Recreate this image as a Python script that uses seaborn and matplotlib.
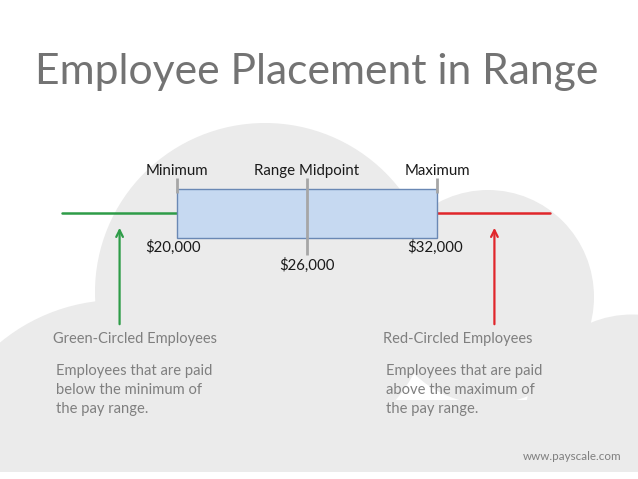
import numpy as np
import pandas as pd
import seaborn as sns
import matplotlib.pyplot as plt
from matplotlib.patches import Ellipse, Rectangle

# pay range values
range_min = 20000
range_mid = 26000
range_max = 32000
below_start = 14700   # left end of the green line
above_end = 37200     # right end of the red line
green_arrow_x = 17350
red_arrow_x = 34650

range_labels = ['Minimum', 'Range Midpoint', 'Maximum']
range_values = [range_min, range_mid, range_max]
value_labels = ['$20,000', '$26,000', '$32,000']

green_lines = ['Employees that are paid', 'below the minimum of', 'the pay range.']
red_lines = ['Employees that are paid', 'above the maximum of', 'the pay range.']

sns.set_theme(style='white')
plt.rcParams['font.family'] = ['Lato', 'DejaVu Sans']

W, H = 638, 479
fig = plt.figure(figsize=(W / 100, H / 100), dpi=100)
fig.patch.set_facecolor('white')

# background axes in pixel units for the cloud
bg = fig.add_axes([0, 0, 1, 1])
bg.set_xlim(0, W)
bg.set_ylim(H, 0)
bg.axis('off')
cloud = '#ebebeb'
clip = Rectangle((0, 0), W, 472, transform=bg.transData)
for cx, cy, w, h in [(265, 292, 340, 338), (488, 297, 212, 214),
                     (118, 485, 370, 370), (632, 422, 215, 215)]:
    e = Ellipse((cx, cy), w, h, facecolor=cloud, edgecolor='none')
    bg.add_patch(e)
    e.set_clip_path(clip)
r = Rectangle((0, 400), W, 72, facecolor=cloud, edgecolor='none')
bg.add_patch(r)

# main axes: x in dollars, y in pixels
px_per_dollar = 260 / (range_max - range_min)
ax = fig.add_axes([0, 0, 1, 1], facecolor='none')
ax.set_xlim(range_min - 177 / px_per_dollar, range_min + (W - 177) / px_per_dollar)
ax.set_ylim(H, 0)
ax.axis('off')

line_y = 213
sns.lineplot(x=[below_start, range_min], y=[line_y, line_y], color='#2e9c48', lw=1.8, ax=ax)
sns.lineplot(x=[range_max, above_end], y=[line_y, line_y], color='#e0262b', lw=1.8, ax=ax)

ax.barh(line_y, range_max - range_min, left=range_min, height=49,
        color='#c6d9f1', edgecolor='#6a88b4', lw=1, zorder=3)

# grey ticks
ax.vlines([range_min, range_max], 178, 193, color='#a6a6a6', lw=2, zorder=4)
ax.vlines(range_mid, 178, 255, color='#a6a6a6', lw=2, zorder=4)

fs = 10.8
for lab, v in zip(range_labels, range_values):
    ax.text(v, 171, lab, ha='center', va='center', fontsize=fs, color='#1a1a1a')
ax.text(range_min - 200, 247, value_labels[0], ha='center', va='center', fontsize=fs, color='#1a1a1a')
ax.text(range_mid, 265, value_labels[1], ha='center', va='center', fontsize=fs, color='#1a1a1a')
ax.text(range_max - 100, 247, value_labels[2], ha='center', va='center', fontsize=fs, color='#1a1a1a')

# arrows
ax.annotate('', xy=(green_arrow_x, 225), xytext=(green_arrow_x, 327),
            arrowprops=dict(arrowstyle='->', color='#2e9c48', lw=1.6))
ax.annotate('', xy=(red_arrow_x, 225), xytext=(red_arrow_x, 327),
            arrowprops=dict(arrowstyle='->', color='#e0262b', lw=1.6))

# texts
bg.text(35, 72, 'Employee Placement in Range', fontsize=30.7, color='#737373', va='center')
grey = '#7f7f7f'
bg.text(53, 339, 'Green-Circled Employees', fontsize=10.5, color=grey, va='center')
bg.text(383, 339, 'Red-Circled Employees', fontsize=10.5, color=grey, va='center')
for i, (gl, rl) in enumerate(zip(green_lines, red_lines)):
    bg.text(56, 371 + 19 * i, gl, fontsize=10.6, color=grey, va='center')
    bg.text(386, 371 + 19 * i, rl, fontsize=10.6, color=grey, va='center')
bg.text(621, 457, 'www.payscale.com', fontsize=8.4, color=grey, va='center', ha='right')

plt.savefig('out.png', dpi=100)
